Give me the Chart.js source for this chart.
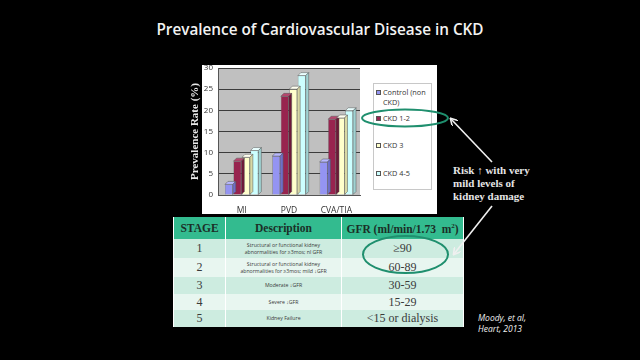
<!DOCTYPE html>
<html>
<head>
<meta charset="utf-8">
<script src="https://cdn.jsdelivr.net/npm/chart.js@4/dist/chart.umd.min.js"></script>
<style>
  html, body { margin:0; padding:0; background:#000; width:640px; height:360px; overflow:hidden; }
  #stage { position:relative; width:640px; height:360px; background:#000; }
  #title { position:absolute; left:0; top:19px; width:640px; text-align:center; color:#f2f2f2;
           font-family:"Open Sans", sans-serif; font-weight:600; font-size:15.3px; }
  #panel { position:absolute; left:202px; top:65px; width:235px; height:149px; background:#fff; }
  #chartWrap { position:absolute; left:178px; top:58px; width:188px; height:156px; }
  #legend { position:absolute; left:373px; top:83px; width:59px; height:107px; background:#fff;
            border:1px solid #c8c8c8; box-sizing:border-box; font-family:"Open Sans", sans-serif; font-size:7.3px; color:#333; }
  .li { position:absolute; left:2px; display:flex; align-items:flex-start; line-height:9.5px; }
  .sw { width:5px; height:5px; border:1px solid #555; margin-right:2px; margin-top:2px; flex:none; box-sizing:border-box; }
  #table { position:absolute; left:173px; top:217px; width:290px; border-collapse:collapse; table-layout:fixed; }
  #table td, #table th { padding:0; text-align:center; border-left:1px solid #fff; border-right:1px solid #fff; }
  #table th { background:#33bb8f; color:#1b2f27; font-family:"Liberation Serif", serif; font-weight:bold; font-size:11.5px; height:22px; }
  #table td { color:#3a3a3a; font-family:"Liberation Serif", serif; }
  #table tr.a td { background:#cdece0; }
  #table tr.b td { background:#e8f6f0; }
  .st { font-size:12px; }
  .ds { font-family:"Open Sans", sans-serif !important; font-size:5.2px; line-height:6.5px; }
  .gf { font-size:12px; }
  #risk { position:absolute; left:453px; top:164px; color:#e6e6e6; font-family:"Liberation Serif", serif; font-weight:bold; font-size:11px; line-height:13px; }
  #cite { position:absolute; left:478px; top:312px; color:#f0f0f0; font-family:"Open Sans", sans-serif; font-style:italic; font-size:8.5px; line-height:11px; }
  svg { position:absolute; left:0; top:0; }
</style>
</head>
<body>
<div id="stage">
  <div id="title">Prevalence of Cardiovascular Disease in CKD</div>
  <div id="panel"></div>
  <div id="chartWrap"><canvas id="c" width="188" height="156"></canvas></div>
  <div id="legend"></div>
  <table id="table"></table>
  <div id="risk">Risk ↑ with very<br>mild levels of<br>kidney damage</div>
  <div id="cite">Moody, et al,<br>Heart, 2013</div>
  <svg width="640" height="360" viewBox="0 0 640 360">
    <defs>
      <marker id="ah" markerWidth="8" markerHeight="8" refX="6" refY="4" orient="auto" markerUnits="userSpaceOnUse">
        <path d="M0,0 L7,4 L0,8" fill="none" stroke="#f0f0f0" stroke-width="1.6"/>
      </marker>
    </defs>
    <ellipse cx="405" cy="118" rx="43" ry="8.5" fill="none" stroke="#1f8f6e" stroke-width="2"/>
    <ellipse cx="405.5" cy="254.5" rx="42.5" ry="18.5" fill="none" stroke="#1f8f6e" stroke-width="2"/>
    <line x1="492" y1="162" x2="451" y2="119" stroke="#f0f0f0" stroke-width="1.6" marker-end="url(#ah)"/>
    <line x1="492" y1="206" x2="454" y2="254" stroke="#f0f0f0" stroke-width="1.6" marker-end="url(#ah)"/>
  </svg>
</div>
<script>
// ---- data ----
const categories = ['MI', 'PVD', 'CVA/TIA'];
const seriesNames = ['Control (non CKD)', 'CKD 1-2', 'CKD 3', 'CKD 4-5'];
const controlValues = [2.5, 9.2, 7.8];
const ckd12Values = [8.0, 23.3, 17.9];
const ckd3Values = [8.9, 25.0, 18.2];
const ckd45Values = [10.5, 28.2, 19.9];
const yTicks = [0, 5, 10, 15, 20, 25, 30];

const tableStages = ['1', '2', '3', '4', '5'];
const tableDescriptions = [
  'Structural or functional kidney<br>abnormalities for ≥3mos; nl GFR',
  'Structural or functional kidney<br>abnormalities for ≥3mos; mild ↓GFR',
  'Moderate ↓GFR',
  'Severe ↓GFR',
  'Kidney Failure'
];
const tableGFR = ['≥90', '60-89', '30-59', '15-29', '&lt;15 or dialysis'];
const tableHeaders = ['STAGE', 'Description', 'GFR (ml/min/1.73&nbsp; m<sup style="font-size:7px">2</sup>)'];

// ---- styles ----
const fillColors = ['#9494f2', '#98244f', '#ffffcc', '#ccffff'];
const topColors = ['#b8b8ff', '#b8476f', '#fffff0', '#eaffff'];
const sideColors = ['#6e6ec8', '#6e1838', '#d8d8a4', '#a0d2d2'];
const rowHeights = [19, 19, 17, 16, 17];

// legend (HTML)
const legendTops = [4, 30, 57, 85];
const legendLabels = ['Control (non<br>CKD)', seriesNames[1], seriesNames[2], seriesNames[3]];
const lg = document.getElementById('legend');
seriesNames.forEach((n, i) => {
  const d = document.createElement('div');
  d.className = 'li';
  d.style.top = legendTops[i] + 'px';
  d.innerHTML = '<span class="sw" style="background:' + fillColors[i] + '"></span><span>' + legendLabels[i] + '</span>';
  lg.appendChild(d);
});

// table
const tb = document.getElementById('table');
let html = '<colgroup><col style="width:52px"><col style="width:116px"><col style="width:122px"></colgroup>';
html += '<tr>' + tableHeaders.map(h => '<th>' + h + '</th>').join('') + '</tr>';
tableStages.forEach((s, i) => {
  html += '<tr class="' + (i % 2 === 0 ? 'a' : 'b') + '" style="height:' + rowHeights[i] + 'px">' +
    '<td class="st">' + s + '</td><td class="ds">' + tableDescriptions[i] + '</td><td class="gf">' + tableGFR[i] + '</td></tr>';
});
tb.innerHTML = html;

// chart
const depth = 3;
const bgPlugin = {
  id: 'bg',
  beforeDraw(chart) {
    const {ctx, chartArea: a} = chart;
    ctx.save();
    ctx.fillStyle = '#c0c0c0';
    ctx.fillRect(a.left, a.top, a.right - a.left, a.bottom - a.top);
    ctx.restore();
  }
};
const bar3d = {
  id: 'bar3d',
  afterDatasetsDraw(chart) {
    const ctx = chart.ctx;
    chart.data.datasets.forEach((ds, di) => {
      const meta = chart.getDatasetMeta(di);
      meta.data.forEach(el => {
        const w = el.width, x0 = el.x - w / 2, x1 = el.x + w / 2, y = el.y, b = el.base;
        ctx.save();
        ctx.strokeStyle = '#555';
        ctx.lineWidth = 0.5;
        ctx.fillStyle = topColors[di];
        ctx.beginPath();
        ctx.moveTo(x0, y); ctx.lineTo(x0 + depth, y - depth); ctx.lineTo(x1 + depth, y - depth); ctx.lineTo(x1, y);
        ctx.closePath(); ctx.fill(); ctx.stroke();
        ctx.fillStyle = sideColors[di];
        ctx.beginPath();
        ctx.moveTo(x1, y); ctx.lineTo(x1 + depth, y - depth); ctx.lineTo(x1 + depth, b - depth); ctx.lineTo(x1, b);
        ctx.closePath(); ctx.fill(); ctx.stroke();
        ctx.restore();
      });
    });
  }
};

new Chart(document.getElementById('c'), {
  type: 'bar',
  data: {
    labels: categories,
    datasets: [
      {label: seriesNames[0], data: controlValues},
      {label: seriesNames[1], data: ckd12Values},
      {label: seriesNames[2], data: ckd3Values},
      {label: seriesNames[3], data: ckd45Values}
    ].map((d, i) => Object.assign(d, {backgroundColor: fillColors[i], borderColor: '#555', borderWidth: 0.5,
      barPercentage: 0.92, categoryPercentage: 0.72}))
  },
  options: {
    responsive: false,
    animation: false,
    devicePixelRatio: 1,
    layout: {padding: {top: 10, right: 6, left: 0, bottom: 0}},
    plugins: {legend: {display: false}, tooltip: {enabled: false}},
    scales: {
      x: {
        grid: {display: false},
        border: {color: '#555'},
        ticks: {color: '#333', font: {family: 'Open Sans', size: 8.5}, padding: 2},
        afterFit(s) { s.height = 19; }
      },
      y: {
        min: 0, max: 30,
        afterBuildTicks(s) { s.ticks = yTicks.map(v => ({value: v})); },
        grid: {color: '#3c3c3c', lineWidth: 1, drawTicks: false},
        border: {color: '#555'},
        ticks: {color: '#333', font: {family: 'Open Sans', size: 8}, padding: 5},
        title: {display: true, text: 'Prevalence Rate (%)', color: '#e8e8e8',
                font: {family: 'Liberation Serif', size: 11, weight: 'bold'}, padding: {top: 11, bottom: 0}},
        afterFit(s) { s.width = 40; }
      }
    }
  },
  plugins: [bgPlugin, bar3d]
});
</script>
</body>
</html>
